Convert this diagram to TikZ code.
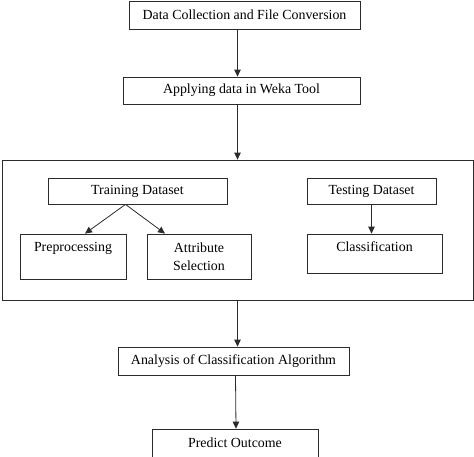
\documentclass[tikz,border=0pt]{standalone}
\usepackage{fontspec}
\setmainfont{Liberation Serif}
\usetikzlibrary{arrows.meta, positioning, calc}
\definecolor{mLine}{HTML}{2B2B2B}

\begin{document}
\begin{tikzpicture}[x=1pt, y=-1pt,
      stage/.style={draw=mLine, line width=0.8pt, inner sep=1pt, align=center,
        font=\fontsize{13.9}{18}\selectfont},
      flow/.style={draw=mLine, line width=0.8pt, -{Triangle[length=7pt, width=6.5pt]}}]
    \useasboundingbox (0,0) rectangle (474,456);
    \clip (0,0) rectangle (474,456);
    \node[stage, minimum width=231, minimum height=28] (collect) at (244.5,15) {Data Collection and File Conversion};
    \node[stage, minimum width=237, minimum height=27] (weka) at (241.5,90.5) {Applying data in Weka Tool};
    \node[stage, minimum width=471, minimum height=140] (phase) at (237.5,230) {};
    \node[stage, minimum width=179, minimum height=26] (train) at (137.5,191) {Training Dataset};
    \node[stage, minimum width=129, minimum height=26] (test) at (371.5,191) {Testing Dataset};
    \node[stage, minimum width=106, minimum height=45, text depth=19pt] (prep) at (73,256.5) {Preprocessing};
    \node[stage, minimum width=104, minimum height=45] (attr) at (199,256.5) {Attribute\\Selection};
    \node[stage, minimum width=135, minimum height=39, text depth=13.5pt] (classif) at (374.5,253.5) {Classification};
    \node[stage, minimum width=231, minimum height=28] (analysis) at (233.5,361) {Analysis of Classification Algorithm};
    \node[stage, minimum width=166, minimum height=28] (predict) at (235,443) {Predict Outcome};
    \draw[flow] (collect.south -| phase.north) -- (weka.north -| phase.north);
    \draw[flow] (weka.south -| phase.north) -- (phase.north);
    \draw[flow] ($(train.south)+(-12,0)$) -- ($(prep.north)+(12,0)$);
    \draw[flow] ($(train.south)+(-12,0)$) -- ($(attr.north)+(-34,0)$);
    \draw[flow] (test.south) -- (test.south |- classif.north);
    \draw[flow] (phase.south) -- (analysis.north -| phase.south);
    \draw[flow] ($(analysis.south)+(2,0)$) -- ($(predict.north)+(1,0)$);
  \end{tikzpicture}
\end{document}
